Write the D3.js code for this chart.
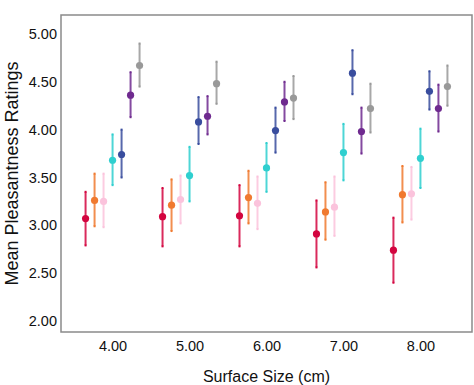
<!DOCTYPE html>
<html><head><meta charset="utf-8">
<script src="https://cdn.jsdelivr.net/npm/d3@7"></script>
<style>body{margin:0;background:#fff}svg{display:block}text{font-family:"Liberation Sans",Arial,sans-serif;fill:#111}</style>
</head><body><svg id="c" width="474" height="385"></svg>
<script>
const categories = ["4.00","5.00","6.00","7.00","8.00"];
const seriesNames = ["s1","s2","s3","s4","s5","s6","s7"];
const seriesColors = ["#d3053f","#f07a30","#fbc3dc","#2fcfcf","#394d9e","#6f2a8f","#999999"];
// mean, lower, upper per category for each series
const means = [
  [3.07,3.09,3.10,2.91,2.74],
  [3.26,3.21,3.29,3.14,3.32],
  [3.25,3.27,3.23,3.19,3.33],
  [3.68,3.52,3.60,3.76,3.70],
  [3.74,4.08,3.99,4.59,4.40],
  [4.36,4.14,4.29,3.98,4.22],
  [4.67,4.48,4.33,4.22,4.45]
];
const lowers = [
  [2.79,2.78,2.78,2.56,2.40],
  [2.99,2.94,3.02,2.85,3.03],
  [2.98,3.02,2.96,2.89,3.06],
  [3.42,3.25,3.35,3.47,3.39],
  [3.50,3.85,3.76,4.37,4.21],
  [4.13,3.95,4.09,3.75,3.98],
  [4.45,4.27,4.11,3.97,4.25]
];
const uppers = [
  [3.35,3.39,3.42,3.26,3.08],
  [3.54,3.48,3.57,3.45,3.62],
  [3.54,3.52,3.51,3.51,3.61],
  [3.95,3.82,3.86,4.06,4.01],
  [4.00,4.34,4.23,4.83,4.61],
  [4.60,4.35,4.50,4.23,4.47],
  [4.90,4.71,4.56,4.48,4.67]
];
const yTicks = [2.00,2.50,3.00,3.50,4.00,4.50,5.00];

const svg = d3.select("#c");
const L=61, R=472, T=15, B=332;
const x = d3.scalePoint().domain(categories).range([L,R]).padding(0.67);
const y = d3.scaleLinear().domain([1.885,5.198]).range([B,T]);
const off = d3.scalePoint().domain(seriesNames).range([-27,27]);

svg.append("rect").attr("x",L).attr("y",T).attr("width",R-L).attr("height",B-T)
  .attr("fill","none").attr("stroke","#8a8a8a").attr("stroke-width",1.5);

const ya = svg.append("g").attr("transform",`translate(${L},0)`)
  .call(d3.axisLeft(y).tickValues(yTicks).tickFormat(d3.format(".2f")).tickSize(0).tickPadding(4));
ya.select(".domain").remove();
ya.selectAll("text").attr("font-size",14.5).attr("fill","#111");

const xa = svg.append("g").attr("transform",`translate(0,${B})`)
  .call(d3.axisBottom(x).tickSize(0).tickPadding(9));
xa.select(".domain").remove();
xa.selectAll("text").attr("font-size",14.5).attr("fill","#111");

svg.append("text").attr("x",(L+R)/2).attr("y",382).attr("text-anchor","middle")
  .attr("font-size",16).text("Surface Size (cm)");
svg.append("text").attr("transform",`translate(18,${(T+B)/2}) rotate(-90)`).attr("text-anchor","middle")
  .attr("font-size",18).text("Mean Pleasantness Ratings");

seriesNames.forEach((s,i)=>{
  const g = svg.append("g");
  const data = categories.map((c,j)=>({c, m:means[i][j], lo:lowers[i][j], hi:uppers[i][j]}));
  const px = d=>x(d.c)+off(s);
  g.selectAll("line.e").data(data).join("line").attr("class","e")
    .attr("x1",px).attr("x2",px).attr("y1",d=>y(d.lo)).attr("y2",d=>y(d.hi))
    .attr("stroke",seriesColors[i]).attr("stroke-width",2).attr("stroke-opacity",0.85);
  ["lo","hi"].forEach(k=>{
    g.selectAll("line."+k).data(data).join("line").attr("class",k)
      .attr("x1",d=>px(d)-1).attr("x2",d=>px(d)+1).attr("y1",d=>y(d[k])).attr("y2",d=>y(d[k]))
      .attr("stroke",seriesColors[i]).attr("stroke-width",2);
  });
  g.selectAll("circle").data(data).join("circle")
    .attr("cx",px).attr("cy",d=>y(d.m)).attr("r",3.6).attr("fill",seriesColors[i]);
});
</script></body></html>
